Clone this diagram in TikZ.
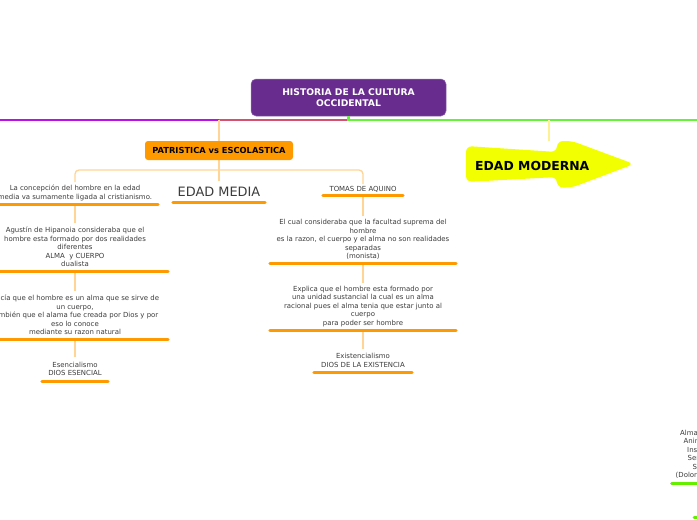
\documentclass[tikz,border=0pt]{standalone}
\usepackage{fontspec}
\setmainfont{DejaVu Sans}
\definecolor{rootc}{HTML}{682C8E}
\definecolor{org}{HTML}{FF9900}
\definecolor{lorg}{HTML}{FFD494}
\definecolor{purp}{HTML}{BB10E8}
\definecolor{pink}{HTML}{D6506F}
\definecolor{grn}{HTML}{66F23A}
\definecolor{lime}{HTML}{66EE00}
\definecolor{yel}{HTML}{F1FF00}
\definecolor{lyel}{HTML}{FFF094}
\definecolor{txt}{HTML}{3C3C3C}
\tikzset{
  x=1pt,y=-1pt,
  rootbox/.style={fill=rootc,draw=rootc!70!white,line width=.5pt,rounded corners=5pt,minimum width=195pt,minimum height=37pt,inner sep=0pt,text=white,align=center,font=\bfseries\fontsize{9.2}{11.5}\selectfont},
  patbox/.style={fill=org,rounded corners=3pt,minimum width=148pt,minimum height=19pt,inner sep=0pt,text=black,font=\bfseries\fontsize{8.3}{10}\selectfont},
  item/.style={anchor=south,inner xsep=0pt,inner ysep=3pt,align=center,text=txt,font=\fontsize{6.95}{8.55}\selectfont},
  uline/.style={draw=org,line width=3pt,line cap=round},
  conn/.style={draw=lorg,line width=1.3pt,rounded corners=4pt},
  lead/.style={line width=2.2pt},
}
\begin{document}
\begin{tikzpicture}
\useasboundingbox (0,0) rectangle (697,520);
\clip (0,0) rectangle (697,520);
\fill[white] (0,0) rectangle (697,520);

\coordinate (jm) at (219,120);
\coordinate (jy) at (549,120);
\coordinate (bus) at (219,170);
\coordinate (leftend) at (-2,120);
\coordinate (rightend) at (699,120);

\node[rootbox] (root) at (348.5,97.5) {HISTORIA DE LA CULTURA\\OCCIDENTAL};
\coordinate (rj) at (root.south |- jm);

\node[item,minimum width=166pt] (a1) at (75,204) {La concepción del hombre en la edad\\media va sumamente ligada al cristianismo.};
\node[item,minimum width=186pt,inner ysep=4pt] (a2) at (75,271) {Agustín de Hipanoia consideraba que el\\hombre esta formado por dos realidades\\diferentes\\ALMA\ \ y CUERPO\\dualista};
\node[item,minimum width=186pt,inner ysep=4pt] (a3) at (75,339) {Decía que el hombre es un alma que se sirve de\\un cuerpo,\\también que el alama fue creada por Dios y por\\eso lo conoce\\mediante su razon natural};
\node[item,minimum width=66pt,inner ysep=5pt] (a4) at (75,381) {Esencialismo\\DIOS ESENCIAL};

\node[item,minimum width=92pt,inner ysep=5.5pt,font=\fontsize{12.9}{16}\selectfont] (em) at (219,202) {EDAD MEDIA};

\node[item,minimum width=80pt,inner ysep=2.5pt] (b1) at (363,195.5) {TOMAS DE AQUINO};
\node[item,minimum width=186pt] (b2) at (363,263) {El cual consideraba que la facultad suprema del\\hombre\\es la razon, el cuerpo y el alma no son realidades\\separadas\\(monista)};
\node[item,minimum width=186pt] (b3) at (363,330) {Explica que el hombre esta formado por\\una unidad sustancial la cual es un alma\\racional pues el alma tenia que estar junto al\\cuerpo\\para poder ser hombre};
\node[item,minimum width=98pt,inner ysep=4.5pt] (b4) at (363,372) {Existencialismo\\DIOS DE LA EXISTENCIA};

\draw[lead,draw=purp] (jm) -- (leftend);
\draw[lead,draw=pink] (rj) -- (jm);
\draw[lead,draw=grn] (root.south) -- (rj) -- (rightend);

\draw[conn] (jm) -- (em.north);
\draw[conn] (bus) -| (a1.north);
\draw[conn] (bus) -| (b1.north);
\draw[conn] (a1.south) -- (a2.north);
\draw[conn] (a2.south) -- (a3.north);
\draw[conn] (a3.south) -- (a4.north);
\draw[conn] (b1.south) -- (b2.north);
\draw[conn] (b2.south) -- (b3.north);
\draw[conn] (b3.south) -- (b4.north);

\node[patbox] (pat) at (219,150.5) {PATRISTICA vs ESCOLASTICA};

\foreach \n in {a1,a2,a3,a4,em,b1,b2,b3,b4}
  \draw[uline] (\n.south west) -- (\n.south east);

\coordinate (mod) at (549,141);
\draw[draw=lyel,line width=1.3pt] (jy) -- (mod);
\fill[yel,rounded corners=6pt] (466,146) -- (557,152) -- (557,141) -- (572,141) -- (634,164) -- (572,187.5) -- (557,187.5) -- (557,177) -- (466,182) -- cycle;
\node[anchor=west,inner sep=0pt,text=black,font=\bfseries\fontsize{12.4}{15}\selectfont] (modt) at (475,165.5) {EDAD MODERNA};

\node[anchor=south west,inner xsep=0pt,inner ysep=3pt,align=left,text=txt,font=\fontsize{6.95}{8.55}\selectfont] (c1) at (675.5,482)
 {\hspace*{4.5pt}Alma\\\hspace*{8pt}Anim\\\hspace*{11.5pt}Ins\\\hspace*{12pt}Ser\\\hspace*{17pt}S\\(Dolor};
\draw[draw=lime,line width=3pt,line cap=round] (671.5,483) -- (699,483);
\draw[draw=lime,line width=3pt,line cap=round] (694,517) -- (699,517);
\end{tikzpicture}
\end{document}
